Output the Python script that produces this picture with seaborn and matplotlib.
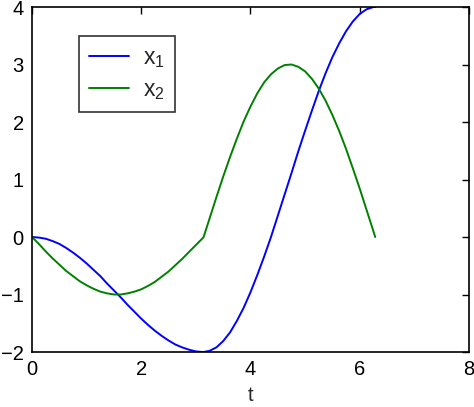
import matplotlib
matplotlib.use("Agg")
import matplotlib.pyplot as plt
import seaborn as sns
import pandas as pd

# values
t = [0.0, 0.125, 0.25, 0.375, 0.5, 0.625, 0.75, 0.875, 1.0, 1.125, 1.25, 1.375, 1.5,
     1.625, 1.75, 1.875, 2.0, 2.125, 2.25, 2.375, 2.5, 2.625, 2.75, 2.875, 3.0, 3.125, 3.1416,
     3.25, 3.375, 3.5, 3.625, 3.75, 3.875, 4.0, 4.125, 4.25, 4.375, 4.5, 4.625, 4.75,
     4.875, 5.0, 5.125, 5.25, 5.375, 5.5, 5.625, 5.75, 5.875, 6.0, 6.125, 6.25, 6.2832]
x1 = [0.0, -0.01, -0.03, -0.07, -0.12, -0.19, -0.27, -0.36, -0.46, -0.57, -0.68, -0.81, -0.93,
      -1.05, -1.18, -1.30, -1.42, -1.53, -1.63, -1.72, -1.80, -1.87, -1.92, -1.96, -1.99, -2.00, -2.00,
      -1.98, -1.92, -1.81, -1.66, -1.46, -1.23, -0.96, -0.66, -0.34, 0.00, 0.37, 0.74, 1.11,
      1.49, 1.85, 2.20, 2.54, 2.85, 3.13, 3.37, 3.58, 3.75, 3.88, 3.96, 4.00, 4.00]
x2 = [0.0, -0.12, -0.25, -0.37, -0.48, -0.59, -0.68, -0.77, -0.84, -0.90, -0.95, -0.98, -1.00,
      -1.00, -0.98, -0.95, -0.91, -0.85, -0.78, -0.69, -0.60, -0.49, -0.38, -0.26, -0.14, -0.02, 0.0,
      0.32, 0.69, 1.05, 1.39, 1.71, 2.01, 2.27, 2.50, 2.69, 2.83, 2.93, 2.99, 3.00,
      2.96, 2.88, 2.75, 2.58, 2.37, 2.12, 1.84, 1.53, 1.19, 0.84, 0.47, 0.10, 0.0]
series_names = ["$\\mathregular{x_1}$", "$\\mathregular{x_2}$"]
colors = ["#0000ff", "#008000"]

df = pd.concat([
    pd.DataFrame({"t": t, "value": x1, "series": series_names[0]}),
    pd.DataFrame({"t": t, "value": x2, "series": series_names[1]}),
])

sns.set_style("white")
plt.rcParams["font.family"] = ["Liberation Sans", "DejaVu Sans"]
plt.rcParams["mathtext.fontset"] = "custom"
plt.rcParams["mathtext.rm"] = "Liberation Sans"

fig = plt.figure(figsize=(4.74, 4.07), dpi=100)
ax = fig.add_axes([32 / 474, 1 - 352 / 407, (469 - 32) / 474, (352 - 7) / 407])

sns.lineplot(data=df, x="t", y="value", hue="series", palette=colors,
             linewidth=1.4, sort=False, estimator=None, ax=ax)

ax.set_xlim(0, 8)
ax.set_ylim(-2, 4)
ax.set_xticks([0, 2, 4, 6, 8])
ax.set_yticks([-2, -1, 0, 1, 2, 3, 4])
ax.set_yticklabels(["\u22122", "\u22121", "0", "1", "2", "3", "4"])
ax.tick_params(direction="in", length=5, width=1, top=True, right=True,
               labelsize=14.5, colors="black")
ax.tick_params(axis="x", pad=6)
ax.tick_params(axis="y", pad=6)
for s in ax.spines.values():
    s.set_visible(True)
    s.set_color("black")
    s.set_linewidth(1.2)
ax.set_xlabel("t", fontsize=14.5, labelpad=5)
ax.set_ylabel("")

leg = ax.legend(loc="upper left", bbox_to_anchor=((79 - 32) / 437, 1 - (36 - 7) / 345),
                borderaxespad=0, fontsize=16.5, frameon=True, fancybox=False,
                edgecolor="black", handlelength=1.75, handletextpad=0.6,
                borderpad=0.45, labelspacing=0.35)
leg.get_frame().set_linewidth(1.2)

fig.savefig("out.png", dpi=100)
